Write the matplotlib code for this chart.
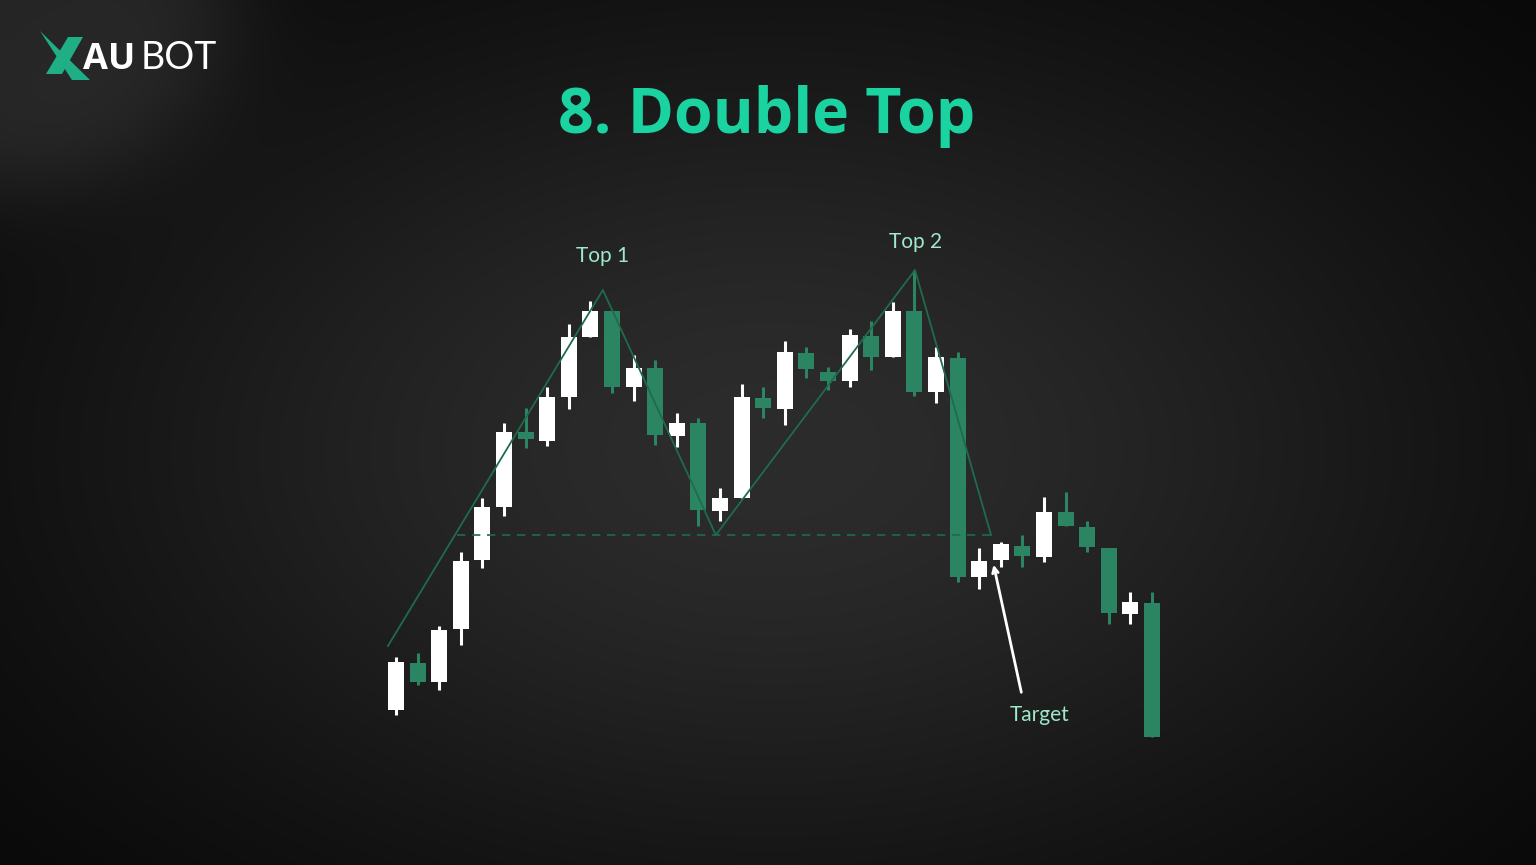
import numpy as np
import matplotlib
matplotlib.use("Agg")
import matplotlib.pyplot as plt
from matplotlib.patches import Polygon

# candle data (arbitrary price units)
opens = [40, 87, 68, 121, 190, 243, 318, 309, 353, 413, 439, 363, 382, 314, 327, 239, 252, 352,
         341, 397, 378, 369, 414, 393, 439, 358, 392, 173, 190, 204, 193, 238, 223, 202, 136, 147]
highs = [93, 97, 124, 198, 252, 327, 342, 363, 426, 449, 439, 395, 390, 337, 332, 262, 366, 363,
         409, 403, 383, 421, 429, 448, 480, 403, 398, 202, 208, 215, 253, 258, 229, 202, 158, 158]
lows = [35, 65, 60, 105, 182, 234, 302, 304, 341, 413, 357, 349, 305, 303, 224, 229, 252, 332,
        325, 372, 360, 363, 380, 393, 354, 347, 168, 161, 183, 183, 188, 224, 198, 126, 126, 13]
closes = [88, 68, 120, 189, 243, 318, 311, 353, 413, 439, 363, 382, 315, 327, 240, 252, 353, 342,
          398, 381, 369, 415, 393, 439, 358, 393, 173, 189, 206, 194, 238, 224, 203, 137, 148, 13]

# pattern outline: start, top 1, trough, top 2, break
zigzag_x = [-0.37, 9.58, 14.81, 24.03, 27.55]
zigzag_y = [104, 460, 215, 480, 215]
neckline_x = [2.82, 27.55]
neckline_y = [215, 215]

labels = ["Top 1", "Top 2", "Target"]
label_x = [9.58, 24.07, 29.8]
label_y = [494, 508, 35]
target_tail = (28.98, 55)
target_head = (27.64, 188)

W, H = 1536, 865
GREEN = "#2b8563"
LINE = "#1f6b4d"
MINT = "#9fe8c9"

fig = plt.figure(figsize=(W / 100, H / 100), dpi=100)

# background gradient: dark vignette, lighter centre, soft light in top-left corner
bg = fig.add_axes([0, 0, 1, 1], zorder=0)
yy, xx = np.mgrid[0:H, 0:W]
r2 = ((xx - 770) / 900.0) ** 2 + ((yy - 450) / 560.0) ** 2
val = 0.012 + 0.16 * np.exp(-1.4 * r2)
d = np.sqrt((xx / 280.0) ** 2 + (yy / 230.0) ** 2)
val = val + 0.11 / (1 + np.exp((d - 0.8) / 0.12))
val = np.clip(val, 0, 1)
bg.imshow(np.dstack([val, val, val]), extent=[0, W, H, 0], aspect="auto")
bg.set_xlim(0, W)
bg.set_ylim(H, 0)
bg.axis("off")

# logo
bg.add_patch(Polygon([(40, 31), (90, 80), (72, 80)], closed=True, color="#1fae85", lw=0))
bg.add_patch(Polygon([(68, 37), (83, 37), (62, 74), (46, 74)], closed=True, color="#1fae85", lw=0))
bg.text(83, 69, "AU", color="white", fontsize=26, fontweight="bold",
        family="Open Sans", va="baseline", ha="left")
bg.text(141, 69, "BOT", color="white", fontsize=27, fontweight="normal",
        family="Lato", va="baseline", ha="left")

# title
bg.text(767, 133, "8. Double Top", color="#1ad3a0", fontsize=45, fontweight="bold",
        family="Open Sans", va="baseline", ha="center")

# chart
ax = fig.add_axes([0, 0, 1, 1], zorder=1)
ax.patch.set_alpha(0)
x = np.arange(len(opens))
o = np.array(opens)
c = np.array(closes)
colors = np.where(c >= o, "white", GREEN)

ax.plot(zigzag_x, zigzag_y, color=LINE, lw=1.3, zorder=3)
ax.plot(neckline_x, neckline_y, color=LINE, lw=1.2, ls=(0, (5, 4)), zorder=3)

ax.vlines(x, lows, highs, colors=colors, lw=2.2, zorder=2)
ax.bar(x, np.abs(c - o), bottom=np.minimum(o, c), width=0.74, color=colors, zorder=2)

ax.annotate("", xy=target_head, xytext=target_tail,
            arrowprops=dict(arrowstyle="->", color="white", lw=2, mutation_scale=10))
for t, lx, ly in zip(labels, label_x, label_y):
    ax.text(lx, ly, t, color=MINT, fontsize=15, family="Lato",
            ha="center", va="center")

ax.set_xlim(-18.33, 52.78)
ax.set_ylim(-115, 750)
ax.axis("off")

fig.savefig("out.png", dpi=100)
